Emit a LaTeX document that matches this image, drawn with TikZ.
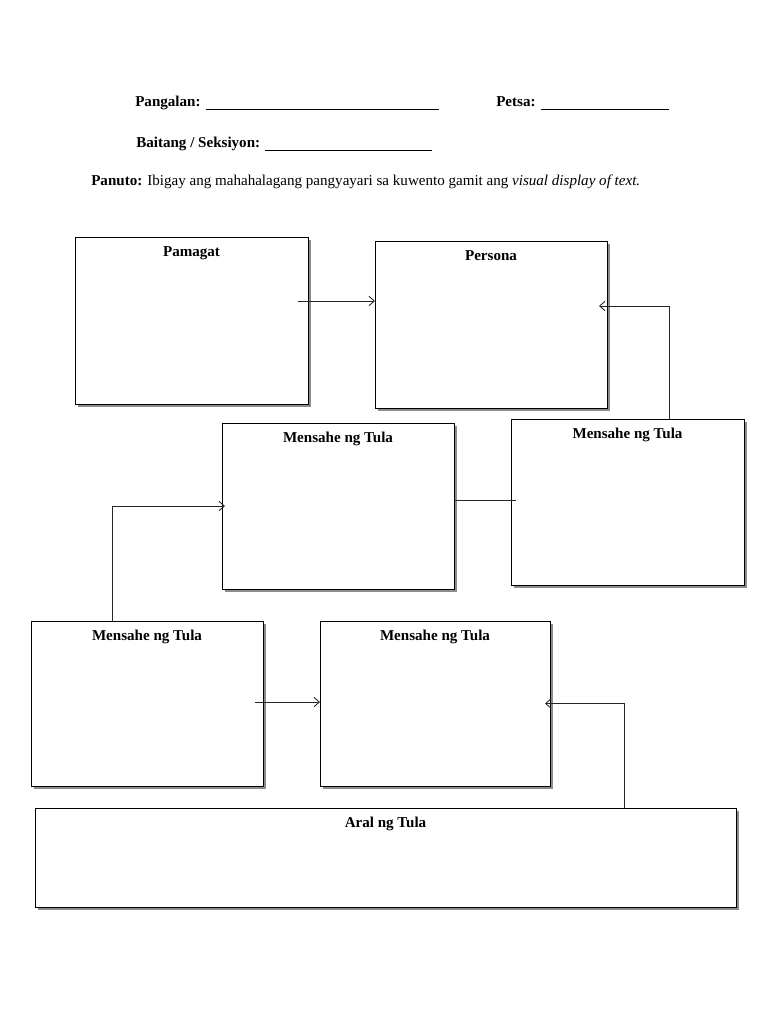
\documentclass[tikz,border=0pt]{standalone}
\usepackage{fontspec}
\setmainfont{Liberation Serif}
\usetikzlibrary{arrows.meta,calc,shadows}
\begin{document}
\begin{tikzpicture}[x=0.75pt,y=-0.75pt,
  every node/.style={font=\fontsize{11.3}{13}\selectfont},
  hdr/.style={anchor=base west,inner sep=0pt},
  card/.style={draw=black,line width=0.75pt,fill=white,rectangle,inner sep=0pt,outer sep=0pt,
    drop shadow={shadow xshift=2pt,shadow yshift=-2pt,fill=black!45,opacity=1}},
  ttl/.style={anchor=base,yshift=-14.25pt,inner sep=0pt,font=\fontsize{11.3}{13}\selectfont\bfseries},
  conn/.style={draw=black!85,line width=0.65pt,-{Straight Barb[length=4pt,width=7pt,line width=0.65pt]}},
  plainline/.style={draw=black!85,line width=0.65pt}]
\useasboundingbox (0,0) rectangle (768,1024);
% header
\node[hdr] (pang) at (135,106) {\textbf{Pangalan:} \rule[-2.5pt]{174.75pt}{0.6pt}};
\node[hdr] (pets) at (496,106) {\textbf{Petsa:} \rule[-2.5pt]{96pt}{0.6pt}};
\node[hdr] (bait) at (136,147) {\textbf{Baitang / Seksiyon:} \rule[-2.5pt]{125.25pt}{0.6pt}};
\node[hdr] (panu) at (91,185) {\textbf{Panuto:} Ibigay ang mahahalagang pangyayari sa kuwento gamit ang \textit{visual display of text.}};
% boxes
\node[card,minimum width=174.75pt,minimum height=125.25pt,label={[ttl]north:Pamagat}] (pam) at (191.5,320.5) {};
\node[card,minimum width=174pt,minimum height=125.25pt,label={[ttl]north:Persona}] (per) at (491,324.5) {};
\node[card,minimum width=174pt,minimum height=124.5pt,label={[ttl]north:Mensahe ng Tula}] (b3) at (338,506) {};
\node[card,minimum width=174.75pt,minimum height=124.5pt,label={[ttl]north:Mensahe ng Tula}] (b4) at (627.5,502) {};
\node[card,minimum width=174pt,minimum height=123.75pt,label={[ttl]north:Mensahe ng Tula}] (b5) at (147,703.5) {};
\node[card,minimum width=172.5pt,minimum height=123.75pt,label={[ttl]north:Mensahe ng Tula}] (b6) at (435,703.5) {};
\node[card,minimum width=525.75pt,minimum height=74.25pt,label={[ttl]north:Aral ng Tula}] (aral) at (385.5,857.5) {};
% connectors
\coordinate (c1) at ($(pam.east)+(-7.5pt,14.6pt)$);
\draw[conn] (c1) -- (c1 -| per.west);
\coordinate (c2) at ($(b4.north)+(31.1pt,0)$);
\draw[conn] (c2) |- ($(per.east)+(-6pt,13.9pt)$);
\coordinate (c3) at ($(b3.east)+(0,4.5pt)$);
\draw[plainline] (c3) -- ($(c3 -| b4.west)+(3.75pt,0)$);
\coordinate (c5) at ($(b5.north)+(-25.7pt,0)$);
\draw[conn] (c5) |- ($(b3.west)+(2.25pt,0)$);
\coordinate (c6) at ($(b5.east)+(-6pt,1.1pt)$);
\draw[conn] (c6) -- (c6 -| b6.west);
\coordinate (c7) at ($(aral.north)+(178.9pt,0)$);
\draw[conn] (c7) |- ($(b6.east)+(-3.75pt,0)$);
\end{tikzpicture}
\end{document}
